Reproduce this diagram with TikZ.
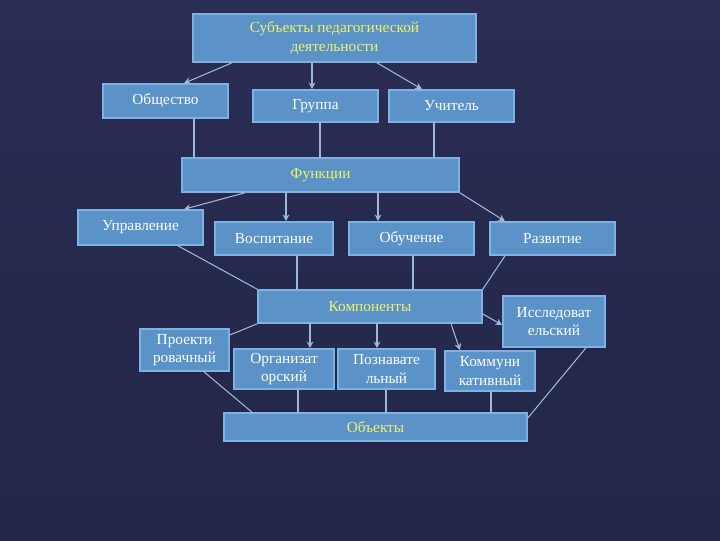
\documentclass[tikz,border=0pt]{standalone}
\usepackage{fontspec}
\setmainfont{Liberation Serif}
\usetikzlibrary{arrows.meta}
\begin{document}
\begin{tikzpicture}[x=0.75pt,y=-0.75pt,
  bx/.style={draw=boxedge,line width=1.2pt,fill=boxfill,text=white,font=\fontsize{11.5}{14}\selectfont,align=center,inner sep=0pt,anchor=center},
  hd/.style={text=headyel},
  ln/.style={draw=lncol,line width=0.8pt},
  ar/.style={ln,-{Stealth[length=5pt,width=5pt]}}]
\definecolor{boxfill}{HTML}{5B92C8}
\definecolor{boxedge}{HTML}{7FB2E2}
\definecolor{headyel}{HTML}{EEF26A}
\definecolor{lncol}{HTML}{9DB8D8}
\definecolor{bgA}{HTML}{2B2D55}
\definecolor{bgB}{HTML}{222647}
\shade[top color=bgA,bottom color=bgB] (0,0) rectangle (720,540);
\useasboundingbox (0,0) rectangle (720,540);
\newcommand{\bx}[7][]{\node[bx,#1,minimum width={(#5-#3)*0.75pt},minimum height={(#6-#4)*0.75pt}] (#2) at ({(#3+#5)/2},{(#4+#6)/2}) {#7};}
\bx[hd]{subj}{193}{14}{476}{62}{Субъекты педагогической\\деятельности}
\bx{obsh}{103}{84}{228}{118}{Общество}
\bx{grup}{253}{90}{378}{122}{Группа}
\bx{uchit}{389}{90}{514}{122}{Учитель}
\bx[hd]{funk}{182}{158}{459}{192}{Функции}
\bx{upr}{78}{210}{203}{245}{Управление}
\bx{vosp}{215}{222}{333}{255}{Воспитание}
\bx{obuch}{349}{222}{474}{255}{Обучение}
\bx{razv}{490}{222}{615}{255}{Развитие}
\bx[hd]{komp}{258}{290}{482}{323}{Компоненты}
\bx{issl}{503}{296}{605}{347}{Исследоват\\ельский}
\bx{proekt}{140}{329}{229}{371}{Проекти\\ровачный}
\bx{organ}{234}{349}{334}{389}{Организат\\орский}
\bx{pozn}{338}{349}{435}{389}{Познавате\\льный}
\bx{kommun}{445}{351}{535}{391}{Коммуни\\кативный}
\bx[hd]{obj}{224}{413}{527}{441}{Объекты}
\draw[ar] (subj.south -| 232,0) -- (obsh.north -| 184,0);
\draw[ar] (subj.south -| 312,0) -- (grup.north -| 312,0);
\draw[ar] (subj.south -| 377,0) -- (uchit.north -| 422,0);
\draw[ln] (obsh.south -| 194,0) -- (funk.north -| 194,0);
\draw[ln] (grup.south -| 320,0) -- (funk.north -| 320,0);
\draw[ln] (uchit.south -| 434,0) -- (funk.north -| 434,0);
\draw[ar] (funk.south -| 245,0) -- (upr.north -| 184,0);
\draw[ar] (funk.south -| 286,0) -- (vosp.north -| 286,0);
\draw[ar] (funk.south -| 378,0) -- (obuch.north -| 378,0);
\draw[ar] (funk.south east) -- (razv.north -| 505,0);
\draw[ln] (upr.south -| 178,0) -- (komp.north west);
\draw[ln] (vosp.south -| 297,0) -- (komp.north -| 297,0);
\draw[ln] (obuch.south -| 413,0) -- (komp.north -| 413,0);
\draw[ln] (razv.south -| 505,0) -- (komp.north east);
\draw[ln] (komp.south west) -- (proekt.east |- 0,335);
\draw[ar] (komp.south -| 310,0) -- (organ.north -| 310,0);
\draw[ar] (komp.south -| 377,0) -- (pozn.north -| 377,0);
\draw[ar] (komp.south -| 451,0) -- (kommun.north -| 460,0);
\draw[ar] (komp.east |- 0,314) -- (issl.west |- 0,325);
\draw[ln] (proekt.south -| 204,0) -- (obj.north -| 252,0);
\draw[ln] (organ.south -| 298,0) -- (obj.north -| 298,0);
\draw[ln] (pozn.south -| 386,0) -- (obj.north -| 386,0);
\draw[ln] (kommun.south -| 491,0) -- (obj.north -| 491,0);
\draw[ln] (issl.south -| 586,0) -- (obj.east |- 0,418);
\end{tikzpicture}
\end{document}
